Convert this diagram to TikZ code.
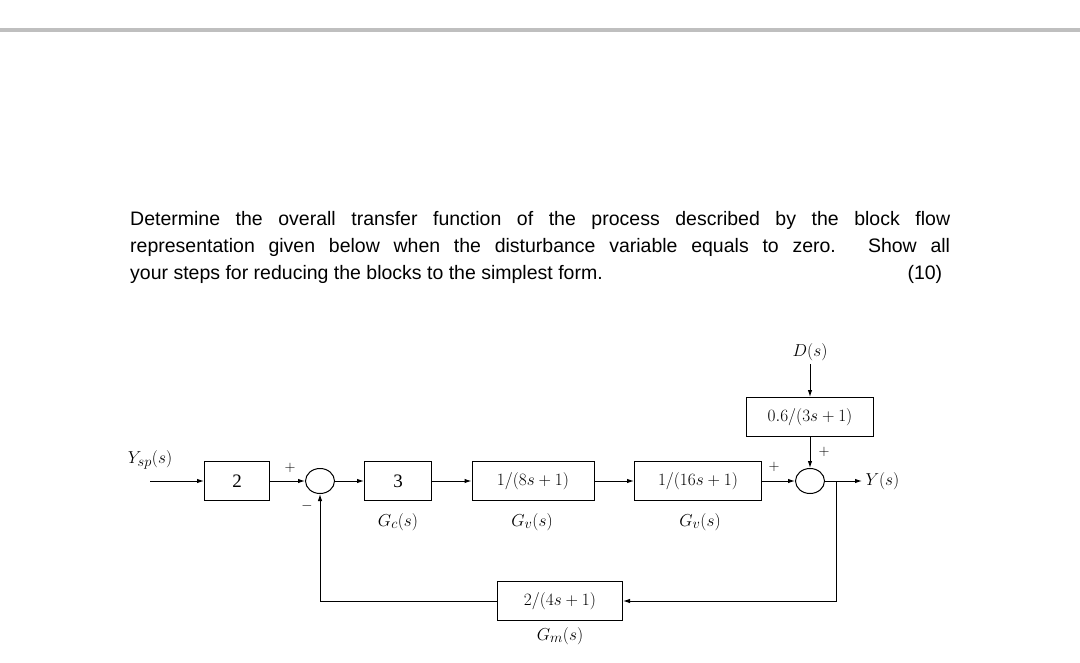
\documentclass[tikz,border=0pt]{standalone}
\usepackage{fontspec}
\setmainfont{Liberation Serif}
\newfontfamily\txtfont{Liberation Sans}
\usetikzlibrary{arrows.meta,shapes.geometric}
\begin{document}
\begin{tikzpicture}[x=1pt,y=-1pt,
  blk/.style={draw,line width=1pt,minimum height=39pt,inner sep=2pt,font=\fontsize{19}{22}\selectfont},
  sumj/.style={draw,line width=1pt,ellipse,minimum width=29pt,minimum height=25pt,inner sep=0pt},
  lbl/.style={font=\fontsize{19}{22}\selectfont},
  sg/.style={font=\fontsize{15}{16}\selectfont,inner sep=0pt},
  ln/.style={line width=1pt},
  ar/.style={line width=1pt,-{Latex[length=7pt,width=4.5pt]}}]
\useasboundingbox (0,0) rectangle (1080,662);
\fill[white] (0,0) rectangle (1080,662);
\draw[line width=4pt,color=black!25] (0,30) -- (1080,30);
\begin{scope}[every node/.style={anchor=base west,inner sep=0pt,font=\txtfont\fontsize{19.5}{22}\selectfont}]
\node (t1) at (130,225) {\makebox[820pt][s]{Determine the overall transfer function of the process described by the block flow}};
\node (t2) at (130,252) {\makebox[820pt][s]{representation given below when the disturbance variable equals to zero. Show all}};
\node (t3) at (130,279) {\makebox[812pt][l]{your steps for reducing the blocks to the simplest form.\hfill(10)}};
\end{scope}
\node[lbl] (ysp) at (150,460) {$Y_{sp}(s)$};
\coordinate (in) at (150,481);
\node[blk,minimum width=65pt] (b2) at (237,481) {2};
\node[sumj] (s1) at (320,481) {};
\node[blk,minimum width=67pt] (gc) at (398,481) {3};
\node[blk,minimum width=122pt] (gv1) at (533,481) {$1/(8s+1)$};
\node[blk,minimum width=127pt] (gv2) at (698,481) {$1/(16s+1)$};
\node[sumj] (s2) at (810,481) {};
\node[lbl,anchor=west] (y) at (862,481) {$Y(s)$};
\node[lbl] (d) at (810,352) {$D(s)$};
\node[blk,minimum width=127pt] (gd) at (810,417) {$0.6/(3s+1)$};
\node[blk,minimum width=125pt] (gm) at (560,601) {$2/(4s+1)$};
\node[lbl] (lc) at (398,522) {$G_c(s)$};
\node[lbl] (lv1) at (532,522) {$G_v(s)$};
\node[lbl] (lv2) at (700,522) {$G_v(s)$};
\node[lbl] (lm) at (560,636) {$G_m(s)$};
\node[sg] (p1) at (290,468) {$+$};
\node[sg] (m1) at (307,506) {$-$};
\node[sg] (p2) at (774,467) {$+$};
\node[sg] (p3) at (824,452) {$+$};
\draw[ar] (in) -- (b2);
\draw[ar] (b2) -- (s1);
\draw[ar] (s1) -- (gc);
\draw[ar] (gc) -- (gv1);
\draw[ar] (gv1) -- (gv2);
\draw[ar] (gv2) -- (s2);
\draw[ar] (s2) -- (y);
\draw[ar] (d) -- (gd);
\draw[ar] (gd) -- (s2);
\coordinate (br) at (836,481);
\draw[ar] (br) |- (gm);
\draw[ar] (gm) -| (s1);
\end{tikzpicture}
\end{document}
